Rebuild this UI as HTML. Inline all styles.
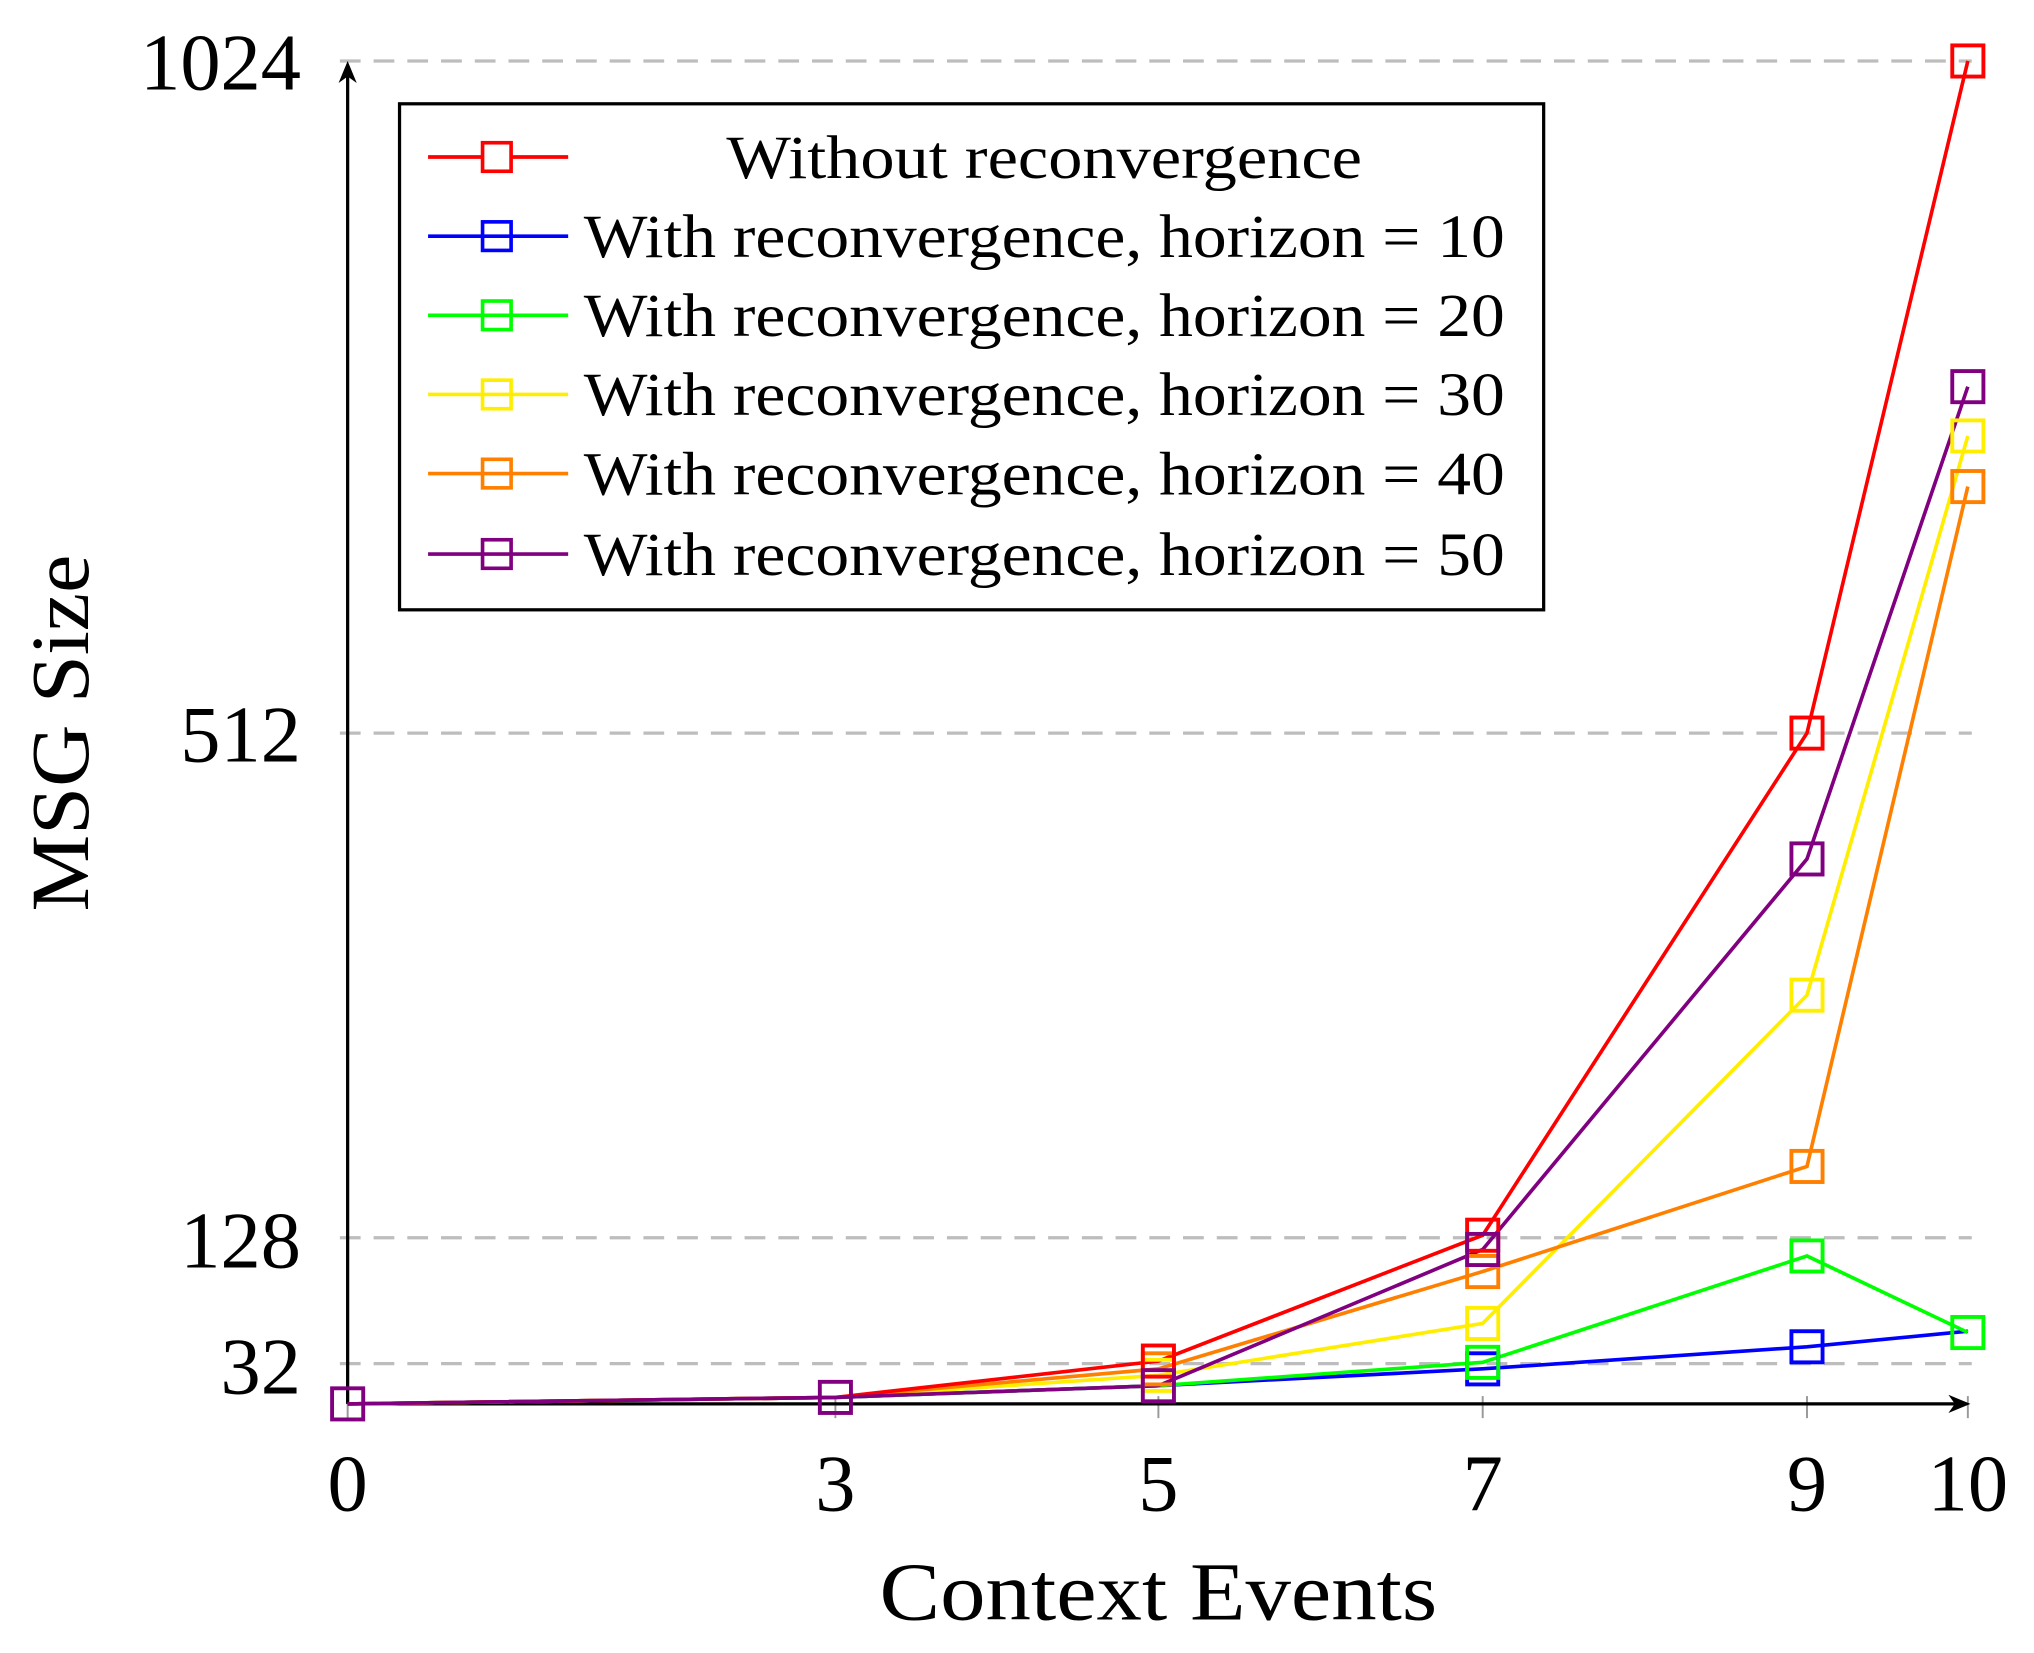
<!DOCTYPE html>
<html><head><meta charset="utf-8"><style>html,body{margin:0;padding:0;background:#fff}svg{display:block}</style></head>
<body>
<svg width="2034" height="1653" viewBox="0 0 1568 1274" preserveAspectRatio="none" xmlns="http://www.w3.org/2000/svg" font-family="'Liberation Serif', serif">
<rect width="1568" height="1274" fill="#fff"/>
<g stroke="#bdbdbd" stroke-width="2.5" stroke-dasharray="16,10">
<line x1="262" y1="47" x2="1520" y2="47"/>
<line x1="262" y1="565" x2="1520" y2="565"/>
<line x1="262" y1="954" x2="1520" y2="954"/>
<line x1="262" y1="1051" x2="1520" y2="1051"/>
</g>
<g stroke="#999" stroke-width="1.5">
<line x1="268" y1="1076" x2="268" y2="1093"/><line x1="644" y1="1076" x2="644" y2="1093"/>
<line x1="893" y1="1076" x2="893" y2="1093"/><line x1="1143" y1="1076" x2="1143" y2="1093"/>
<line x1="1393" y1="1076" x2="1393" y2="1093"/><line x1="1517" y1="1076" x2="1517" y2="1093"/>
</g>
<g stroke="#000" stroke-width="2.5" fill="none">
<line x1="268" y1="1082" x2="268" y2="52"/>
<line x1="268" y1="1082" x2="1512" y2="1082"/>
</g>
<path d="M268 47 L261 64 L268 59 L275 64 Z" fill="#000"/>
<path d="M1519 1082 L1502 1075 L1507 1082 L1502 1089 Z" fill="#000"/>
<g fill="none" stroke-width="2.8">
<polyline stroke="#0000ff" points="268,1082 644,1077 893,1068 1143,1055 1393,1038 1517,1026"/>
<polyline stroke="#00ff00" points="268,1082 644,1077 893,1068 1143,1050 1393,968 1517,1027"/>
<polyline stroke="#ffee00" points="268,1082 644,1077 893,1060 1143,1020 1393,767 1517,336"/>
<polyline stroke="#ff8000" points="268,1082 644,1077 893,1055 1143,980 1393,899 1517,375"/>
<polyline stroke="#ff0000" points="268,1082 644,1077 893,1049 1143,952 1393,565 1517,47"/>
<polyline stroke="#800080" points="268,1082 644,1077 893,1068 1143,963 1393,662 1517,298"/>
</g>
<g fill="none" stroke-width="3">
<g stroke="#0000ff"><rect x="1131" y="1043" width="24" height="24"/><rect x="1381" y="1026" width="24" height="24"/></g>
<g stroke="#00ff00"><rect x="1131" y="1038" width="24" height="24"/><rect x="1381" y="956" width="24" height="24"/><rect x="1505" y="1015" width="24" height="24"/></g>
<g stroke="#ffee00"><rect x="881" y="1048" width="24" height="24"/><rect x="1131" y="1008" width="24" height="24"/><rect x="1381" y="755" width="24" height="24"/><rect x="1505" y="324" width="24" height="24"/></g>
<g stroke="#ff8000"><rect x="881" y="1043" width="24" height="24"/><rect x="1131" y="968" width="24" height="24"/><rect x="1381" y="887" width="24" height="24"/><rect x="1505" y="363" width="24" height="24"/></g>
<g stroke="#ff0000"><rect x="881" y="1037" width="24" height="24"/><rect x="1131" y="940" width="24" height="24"/><rect x="1381" y="553" width="24" height="24"/><rect x="1505" y="35" width="24" height="24"/></g>
<g stroke="#800080"><rect x="256" y="1070" width="24" height="24"/><rect x="632" y="1065" width="24" height="24"/><rect x="881" y="1056" width="24" height="24"/><rect x="1131" y="951" width="24" height="24"/><rect x="1381" y="650" width="24" height="24"/><rect x="1505" y="286" width="24" height="24"/></g>
</g>
<rect x="308" y="80" width="882" height="390" fill="#fff" stroke="#000" stroke-width="2.5"/>
<g stroke-width="2.8" fill="none">
<g stroke="#ff0000"><line x1="330" y1="121" x2="438" y2="121"/><rect x="372" y="110" width="22" height="22" fill="#fff"/></g>
<g stroke="#0000ff"><line x1="330" y1="182" x2="438" y2="182"/><rect x="372" y="171" width="22" height="22"/></g>
<g stroke="#00ff00"><line x1="330" y1="243" x2="438" y2="243"/><rect x="372" y="232" width="22" height="22"/></g>
<g stroke="#ffee00"><line x1="330" y1="304" x2="438" y2="304"/><rect x="372" y="293" width="22" height="22"/></g>
<g stroke="#ff8000"><line x1="330" y1="365" x2="438" y2="365"/><rect x="372" y="354" width="22" height="22"/></g>
<g stroke="#800080"><line x1="330" y1="427" x2="438" y2="427"/><rect x="372" y="416" width="22" height="22"/></g>
</g>
<g font-size="47" fill="#000">
<text x="560" y="137" textLength="490" lengthAdjust="spacingAndGlyphs">Without reconvergence</text>
<text x="450" y="198" textLength="710" lengthAdjust="spacingAndGlyphs">With reconvergence, horizon = 10</text>
<text x="450" y="259" textLength="710" lengthAdjust="spacingAndGlyphs">With reconvergence, horizon = 20</text>
<text x="450" y="320" textLength="710" lengthAdjust="spacingAndGlyphs">With reconvergence, horizon = 30</text>
<text x="450" y="381" textLength="710" lengthAdjust="spacingAndGlyphs">With reconvergence, horizon = 40</text>
<text x="450" y="443" textLength="710" lengthAdjust="spacingAndGlyphs">With reconvergence, horizon = 50</text>
</g>
<g font-size="62" fill="#000" text-anchor="end">
<text x="232" y="69">1024</text>
<text x="232" y="587">512</text>
<text x="232" y="977">128</text>
<text x="232" y="1074">32</text>
</g>
<g font-size="62" fill="#000" text-anchor="middle">
<text x="268" y="1164">0</text><text x="644" y="1164">3</text><text x="893" y="1164">5</text>
<text x="1143" y="1164">7</text><text x="1393" y="1164">9</text><text x="1517" y="1164">10</text>
</g>
<text x="893" y="1248" font-size="64" text-anchor="middle" textLength="430" lengthAdjust="spacingAndGlyphs">Context Events</text>
<text transform="translate(68,565) rotate(-90)" font-size="64" text-anchor="middle" textLength="275" lengthAdjust="spacingAndGlyphs">MSG Size</text>
</svg>
</body></html>
